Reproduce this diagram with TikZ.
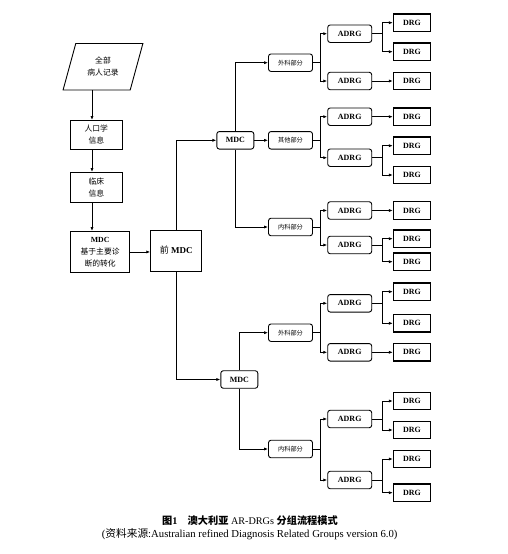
\documentclass[tikz,border=0pt]{standalone}
\usepackage{fontspec}
\setmainfont{Liberation Serif}
\newfontfamily\cjk{Noto Sans CJK SC}
\usetikzlibrary{arrows.meta,shapes.geometric}

\begin{document}
\begin{tikzpicture}[x=1pt,y=-1pt,
  line width=0.8pt, >={Latex[length=4pt,width=3.2pt]},
  box/.style={draw, line width=0.9pt, align=center, inner sep=1pt,
    font=\cjk\fontsize{7.8}{12}\selectfont},
  rbox/.style={draw, rounded corners=2.5pt, line width=0.9pt, inner sep=1pt,
    minimum height=17.5pt, font=\fontsize{8}{10}\selectfont\bfseries},
  grp/.style={rbox, minimum width=44pt, font=\cjk\fontsize{6.2}{8}\selectfont},
  adrg/.style={rbox, minimum width=44pt},
  drg/.style={draw, line width=1.3pt, minimum width=37pt, minimum height=17.5pt,
    inner sep=1pt, font=\fontsize{8}{10}\selectfont\bfseries}]
  \useasboundingbox (0,0) rectangle (507,554);
  \fill[white] (0,0) rectangle (507,554);
  \coordinate (spine) at (92,0);

  % left column
  \node[box, trapezium, trapezium stretches=true, trapezium left angle=70,
    trapezium right angle=110, minimum width=80pt, minimum height=46.5pt] (all) at (103,66.7) {全部\\病人记录};
  \node[box, anchor=north west, minimum width=51.7pt, minimum height=28.5pt] (demo) at (70,120) {人口学\\信息};
  \node[box, anchor=north west, minimum width=51.7pt, minimum height=29.5pt] (clin) at (70,172) {临床\\信息};
  \node[box, anchor=north west, minimum width=59.3pt, minimum height=41pt] (mdc0) at (70,231) {{\rmfamily\bfseries MDC}\\基于主要诊\\断的转化};
  \node[box, minimum width=51pt, minimum height=41pt, font=\fontsize{9}{11}\selectfont\bfseries] (pre) at (176.2,250.5) {{\cjk\mdseries 前} MDC};

  % MDC and parts
  \node[rbox, minimum width=37pt] (mdc1) at (235.3,140.3) {MDC};
  \node[rbox, minimum width=37pt] (mdc2) at (239.3,379.5) {MDC};
  \node[grp] (wk1) at (290.5,62.7) {外科部分};
  \node[grp] (qt1) at (290.5,140.3) {其他部分};
  \node[grp] (nk1) at (290.5,227) {内科部分};
  \node[grp] (wk2) at (290.5,332.7) {外科部分};
  \node[grp] (nk2) at (290.5,449) {内科部分};

  % ADRG
  \node[adrg] (a1) at (349.7,33.7) {ADRG};
  \node[adrg] (a2) at (349.7,81) {ADRG};
  \node[adrg] (a3) at (349.7,116.7) {ADRG};
  \node[adrg] (a4) at (349.7,157.7) {ADRG};
  \node[adrg] (a5) at (349.7,210.5) {ADRG};
  \node[adrg] (a6) at (349.7,245) {ADRG};
  \node[adrg] (a7) at (349.7,303.3) {ADRG};
  \node[adrg] (a8) at (349.7,352.3) {ADRG};
  \node[adrg] (a9) at (349.7,419) {ADRG};
  \node[adrg] (a10) at (349.7,480) {ADRG};

  % DRG
  \node[drg] (d1) at (412,22.7) {DRG};
  \node[drg] (d2) at (412,51.7) {DRG};
  \node[drg] (d3) at (412,81) {DRG};
  \node[drg] (d4) at (412,116.7) {DRG};
  \node[drg] (d5) at (412,145.7) {DRG};
  \node[drg] (d6) at (412,175) {DRG};
  \node[drg] (d7) at (412,210.5) {DRG};
  \node[drg] (d8) at (412,238.7) {DRG};
  \node[drg] (d9) at (412,261.7) {DRG};
  \node[drg] (d10) at (412,291.7) {DRG};
  \node[drg] (d11) at (412,323.3) {DRG};
  \node[drg] (d12) at (412,352.3) {DRG};
  \node[drg] (d13) at (412,401) {DRG};
  \node[drg] (d14) at (412,430) {DRG};
  \node[drg] (d15) at (412,459) {DRG};
  \node[drg] (d16) at (412,492.7) {DRG};

  % connectors
  \draw[->] (all.south -| spine) -- (demo.north -| spine);
  \draw[->] (demo.south -| spine) -- (clin.north -| spine);
  \draw[->] (clin.south -| spine) -- (mdc0.north -| spine);
  \draw[->] (mdc0.east) -- (mdc0.east -| pre.west);
  \draw[->] (pre.north) |- (mdc1.west);
  \draw[->] (pre.south) |- (mdc2.west);
  \draw[->] (mdc1.north) |- (wk1.west);
  \draw[->] (mdc1.east) -- (qt1.west);
  \draw[->] (mdc1.south) |- (nk1.west);
  \draw[->] (mdc2.north) |- (wk2.west);
  \draw[->] (mdc2.south) |- (nk2.west);

  \draw[->] (wk1.east) -- ++(7.5,0) |- (a1.west);
  \draw[->] (wk1.east) -- ++(7.5,0) |- (a2.west);
  \draw[->] (qt1.east) -- ++(7.5,0) |- (a3.west);
  \draw[->] (qt1.east) -- ++(7.5,0) |- (a4.west);
  \draw[->] (nk1.east) -- ++(7.5,0) |- (a5.west);
  \draw[->] (nk1.east) -- ++(7.5,0) |- (a6.west);
  \draw[->] (wk2.east) -- ++(7.5,0) |- (a7.west);
  \draw[->] (wk2.east) -- ++(7.5,0) |- (a8.west);
  \draw[->] (nk2.east) -- ++(7.5,0) |- (a9.west);
  \draw[->] (nk2.east) -- ++(7.5,0) |- (a10.west);

  \draw[->] (a1.east) -- ++(10,0) |- (d1.west);
  \draw[->] (a1.east) -- ++(10,0) |- (d2.west);
  \draw[->] (a2.east) -- (d3.west);
  \draw[->] (a3.east) -- (d4.west);
  \draw[->] (a4.east) -- ++(10,0) |- (d5.west);
  \draw[->] (a4.east) -- ++(10,0) |- (d6.west);
  \draw[->] (a5.east) -- (d7.west);
  \draw[->] (a6.east) -- ++(10,0) |- (d8.west);
  \draw[->] (a6.east) -- ++(10,0) |- (d9.west);
  \draw[->] (a7.east) -- ++(10,0) |- (d10.west);
  \draw[->] (a7.east) -- ++(10,0) |- (d11.west);
  \draw[->] (a8.east) -- (d12.west);
  \draw[->] (a9.east) -- ++(10,0) |- (d13.west);
  \draw[->] (a9.east) -- ++(10,0) |- (d14.west);
  \draw[->] (a10.east) -- ++(10,0) |- (d15.west);
  \draw[->] (a10.east) -- ++(10,0) |- (d16.west);

  % caption
  \node[font=\fontsize{10.2}{12}\selectfont] (title) at (250,520.7)
    {{\cjk\bfseries 图}\textbf{1}\quad{\cjk\bfseries 澳大利亚} AR-DRGs {\cjk\bfseries 分组流程模式}};
  \node[font=\fontsize{10.7}{12}\selectfont] (source) at (249.7,534.3)
    {({\cjk 资料来源}:Australian refined Diagnosis Related Groups version 6.0)};
\end{tikzpicture}
\end{document}
